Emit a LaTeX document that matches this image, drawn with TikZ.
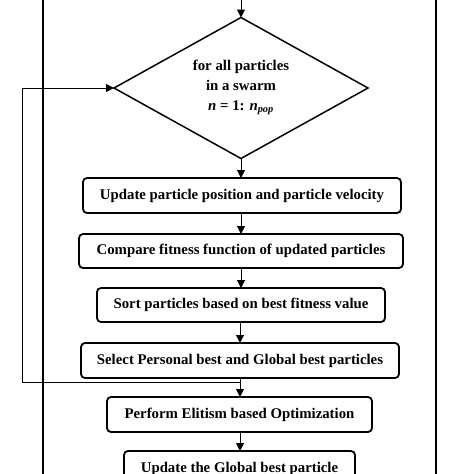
\documentclass[tikz,border=0pt]{standalone}
\usepackage{fontspec}
\setmainfont{Liberation Serif}
\usetikzlibrary{shapes.geometric,arrows.meta}
\begin{document}
\begin{tikzpicture}[x=1pt,y=-1pt,inner sep=0pt,outer sep=0pt,
font=\fontsize{14.8}{20}\selectfont\bfseries,
>={Triangle[length=8pt,width=8pt]},
stepbox/.style={draw,rectangle,rounded corners=4pt,line width=1.8pt,anchor=north west},
loopbox/.style={draw,diamond,line width=1.5pt,align=center}]

\clip (0,0) rectangle (474,474);

% frame of the outer block
\draw[line width=1.3pt] (43,-5) -- (43,480);
\draw[line width=1.3pt] (436,-5) -- (436,480);

\draw (241,88) node[loopbox,minimum width=254pt,minimum height=141pt] (loop) {};
\node[align=center] (looptxt) at (241,87) {for all particles\\in a swarm\\\textit{n} = 1: \textit{n}\textsubscript{\textit{pop}}};

\draw (83,178) node[stepbox,minimum width=318pt,minimum height=35pt] (upd) {};
\node at (upd.center) {Update particle position and particle velocity};
\draw (79,234) node[stepbox,minimum width=324pt,minimum height=34pt] (cmp) {};
\node at (cmp.center) {Compare fitness function of updated particles};
\draw (97,288) node[stepbox,minimum width=288pt,minimum height=34pt] (srt) {};
\node at (srt.center) {Sort particles based on best fitness value};
\draw (81,343) node[stepbox,minimum width=318pt,minimum height=35pt] (sel) {};
\node at (sel.center) {Select Personal best and Global best particles};
\draw (107,397) node[stepbox,minimum width=265pt,minimum height=35pt] (eli) {};
\node at (eli.center) {Perform Elitism based Optimization};
\draw (124,451) node[stepbox,minimum width=231pt,minimum height=35pt] (gbest) {};
\node at (gbest.center) {Update the Global best particle};

\coordinate (in) at (241,-2);
\coordinate (back) at (240,382);
\draw[->,line width=1pt] (in) -- (loop.north);
\draw[->,line width=1pt] (loop.south) -- (upd.north -| loop.south);
\draw[->,line width=1pt] (upd.south -| loop.south) -- (cmp.north -| loop.south);
\draw[->,line width=1pt] (cmp.south -| loop.south) -- (srt.north -| loop.south);
\draw[->,line width=1pt] (srt.south -| back) -- (sel.north -| back);
\draw[->,line width=1pt] (sel.south -| back) -- (eli.north -| back);
\draw[->,line width=1pt] (eli.south -| back) -- (gbest.north -| back);
\draw[->,line width=0.8pt] (back) -- (22,382) -- (22,88) -- (loop.west);

\end{tikzpicture}
\end{document}
